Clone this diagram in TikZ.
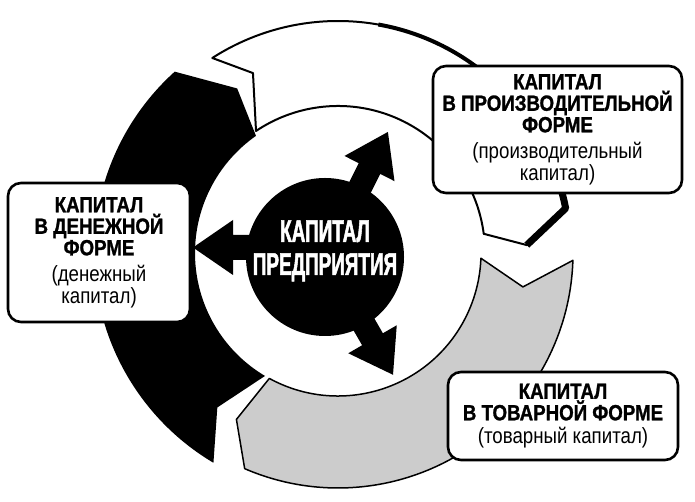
\documentclass[tikz,border=0pt]{standalone}
\usepackage{fontspec}
\setmainfont{Liberation Sans}[FakeStretch=0.85, BoldFeatures={FakeBold=1.2}]
\newfontfamily\corefont{Liberation Sans}[FakeStretch=0.6, BoldFeatures={FakeBold=1.6}]
\begin{document}
\begin{tikzpicture}[x=1pt,y=1pt,
  box/.style={draw=black, line width=2.6pt, rounded corners=13pt, fill=white,
    align=center, inner sep=0pt, font=\fontsize{22}{21.5}\selectfont},
  core/.style={circle, fill=black, minimum size=158pt, inner sep=0pt},
  coretext/.style={text=white, inner sep=0pt, font=\corefont\bfseries\fontsize{31.5}{33}\selectfont},
  ringblack/.style={fill=black},
  ringwhite/.style={fill=white, draw=black, line width=2pt, line join=round},
  ringgray/.style={fill=black!20, draw=black, line width=1.5pt, line join=round},
  ctrarrow/.style={fill=black}]
\useasboundingbox (0,0) rectangle (695,502);
\fill[white] (0,0) rectangle (695,502);

% ring of three arrows
\begin{scope}[shift={(338,249)}]
  \path[ringblack] (239.3:244) arc[start angle=239.3, end angle=132, radius=244]
     -- (121.5:193) -- (125:143) arc[start angle=125, end angle=239.3, radius=143]
     -- (232:196) -- cycle;
  \path[ringwhite] (122.8:232) arc[start angle=122.8, end angle=11.1, radius=232]
     -- (2.4:189) -- (7.5:147) arc[start angle=7.5, end angle=123.9, radius=147]
     -- (115.3:199) -- cycle;
  \draw[line width=4pt] (80:232) arc[start angle=80, end angle=50, radius=232];
  \draw[line width=7pt, line join=round] (20:232) arc[start angle=20, end angle=11.1, radius=232] -- (2.4:189);
  \path[ringgray] (-1.8:235) arc[start angle=-1.8, end angle=-113.4, radius=235]
     -- (-121.4:195) -- (-118.7:143) arc[start angle=-118.7, end angle=-2.1, radius=143]
     -- (-10.4:188) -- cycle;
\end{scope}

% boxes
\node[box, minimum width=182pt, minimum height=139pt] (money) at (99,249.5)
  {\textbf{КАПИТАЛ}\\\textbf{В ДЕНЕЖНОЙ}\\\textbf{ФОРМЕ}\\[5pt](денежный\\капитал)};
\node[box, minimum width=249pt, minimum height=127pt] (prod) at (557.5,372.5)
  {\textbf{КАПИТАЛ}\\\textbf{В ПРОИЗВОДИТЕЛЬНОЙ}\\\textbf{ФОРМЕ}\\[5pt](производительный\\капитал)};
\node[box, minimum width=230pt, minimum height=88pt] (goods) at (563,86)
  {\textbf{КАПИТАЛ}\\\textbf{В ТОВАРНОЙ ФОРМЕ}\\[2pt](товарный капитал)};

% centre
\node[core] (core) at (325,245) {};
\begin{scope}[shift={(core.center)}, rotate=63.3]
  \path[ctrarrow] (0,-12) -- (99,-12) -- (99,-28) -- (140,0) -- (99,28) -- (99,12) -- (0,12) -- cycle;
\end{scope}
\begin{scope}[shift={(core.center)}, rotate=-60]
  \path[ctrarrow] (0,-12) -- (95,-12) -- (95,-28) -- (136,0) -- (95,28) -- (95,12) -- (0,12) -- cycle;
\end{scope}
\begin{scope}[shift={(300,254.5)}, rotate=180]
  \path[ctrarrow] (0,-12.5) -- (67,-12.5) -- (67,-27.5) -- (107,0) -- (67,27.5) -- (67,12.5) -- (0,12.5) -- cycle;
\end{scope}
\node[coretext, anchor=base] (t1) at (325,260) {КАПИТАЛ};
\node[coretext, anchor=base] (t2) at (325,227) {ПРЕДПРИЯТИЯ};
\end{tikzpicture}
\end{document}
